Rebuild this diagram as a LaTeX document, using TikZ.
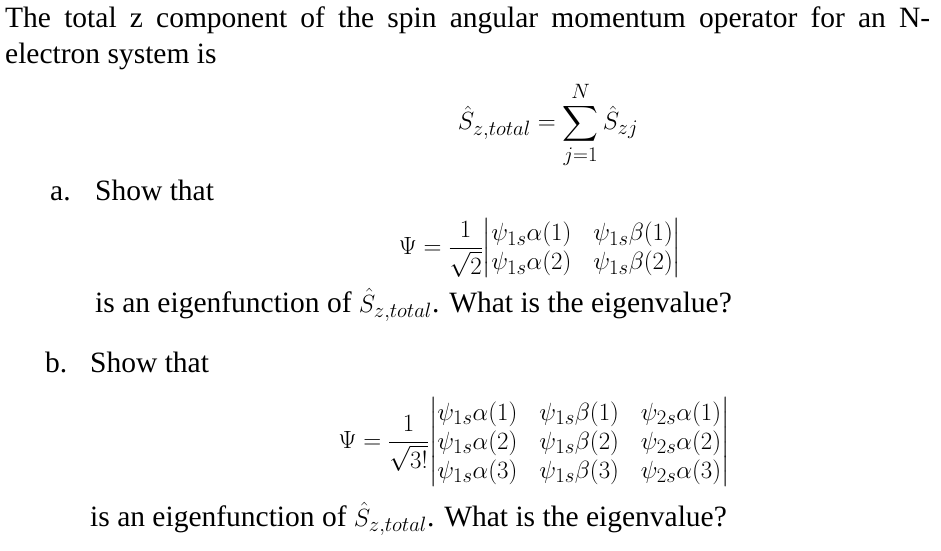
\documentclass[tikz,border=0pt]{standalone}
\usepackage{fontspec}
\usepackage{amsmath}
\setmainfont{Liberation Serif}
\begin{document}
\begin{tikzpicture}[x=1pt,y=-1pt,
  txt/.style={anchor=base west,inner sep=0pt,font=\fontsize{29.5}{34}\selectfont},
  eq/.style={anchor=center,inner sep=0pt,font=\fontsize{30}{35}\selectfont}]
\useasboundingbox (0,0) rectangle (941,550);
\node[txt] (l1) at (5,27) {\makebox[925pt][s]{The total z component of the spin angular momentum operator for an N-}};
\node[txt] (l2) at (5,63) {electron system is};
\node[eq] (e1) at (548,125) {$\displaystyle \hat S_{z,total}=\sum_{j=1}^{N}\hat S_{zj}$};
\node[txt] (a) at (50,200) {a.};
\node[txt] (as) at (95,200) {Show that};
\node[eq] (e2) at (540,248) {\setlength{\arraycolsep}{11pt}$\Psi=\dfrac{1}{\sqrt2}\!\begin{vmatrix}\psi_{1s}\alpha(1) & \psi_{1s}\beta(1)\\[-6pt] \psi_{1s}\alpha(2) & \psi_{1s}\beta(2)\end{vmatrix}$};
\node[txt] (al) at (95,312) {is an eigenfunction of $\hat S_{z,total}$. What is the eigenvalue?};
\node[txt] (b) at (45,372) {b.};
\node[txt] (bs) at (90,372) {Show that};
\node[eq] (e3) at (534,442) {\setlength{\arraycolsep}{11pt}$\Psi=\dfrac{1}{\sqrt{3!}}\!\begin{vmatrix}\psi_{1s}\alpha(1) & \psi_{1s}\beta(1) & \psi_{2s}\alpha(1)\\[-6pt] \psi_{1s}\alpha(2) & \psi_{1s}\beta(2) & \psi_{2s}\alpha(2)\\[-6pt] \psi_{1s}\alpha(3) & \psi_{1s}\beta(3) & \psi_{2s}\alpha(3)\end{vmatrix}$};
\node[txt] (bl) at (90,526) {is an eigenfunction of $\hat S_{z,total}$. What is the eigenvalue?};
\end{tikzpicture}
\end{document}
